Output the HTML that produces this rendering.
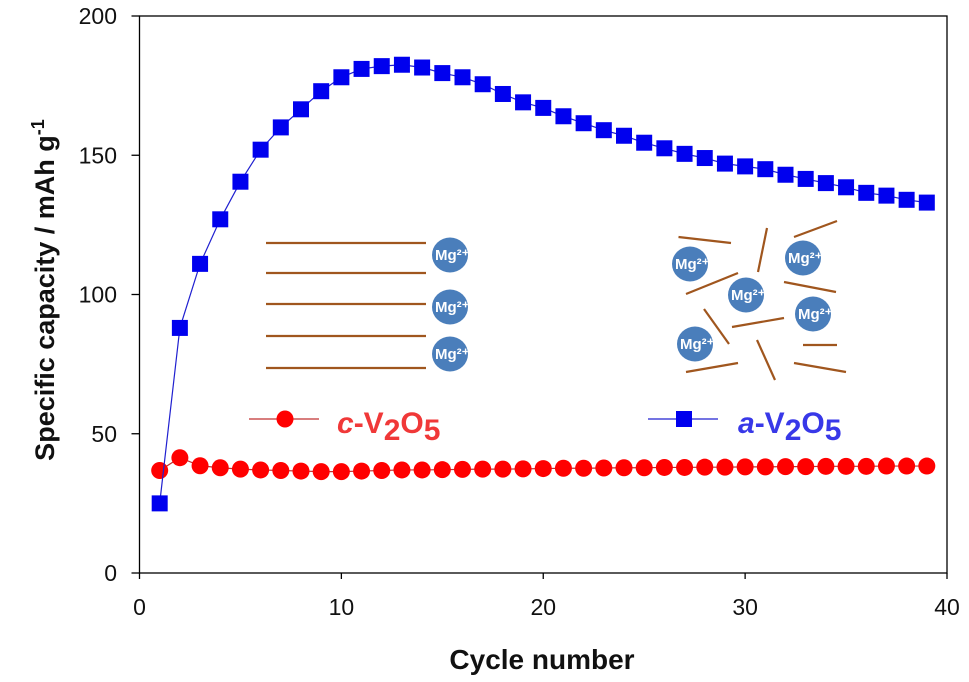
<!DOCTYPE html>
<html><head><meta charset="utf-8"><style>
html,body{margin:0;padding:0;background:#fff}
svg{display:block;font-family:"Liberation Sans",Arial,sans-serif}
</style></head><body>
<svg id="chart" width="969" height="682" viewBox="0 0 969 682" xmlns="http://www.w3.org/2000/svg">
<defs id="defs"></defs>
<g id="insets"></g>
<g id="axes"></g>
<g id="series"></g>
<g id="legend">
  <line x1="249" y1="419" x2="319" y2="419" stroke="#c03030" stroke-width="1.2"/>
  <circle cx="285" cy="419" r="8.5" fill="#ff0000"/>
  <text x="337" y="433" font-size="30" font-weight="bold" fill="#f03838"><tspan font-style="italic">c</tspan>-V<tspan dy="7">2</tspan><tspan dy="-7">O</tspan><tspan dy="7">5</tspan></text>
  <line x1="648" y1="419" x2="718" y2="419" stroke="#2020d0" stroke-width="1.2"/>
  <rect x="676" y="411" width="16" height="16" fill="#0000ee"/>
  <text x="738" y="433" font-size="30" font-weight="bold" fill="#3838e8"><tspan font-style="italic">a</tspan>-V<tspan dy="7">2</tspan><tspan dy="-7">O</tspan><tspan dy="7">5</tspan></text>
</g>
</svg>
<script>
const cycles = [1,2,3,4,5,6,7,8,9,10,11,12,13,14,15,16,17,18,19,20,21,22,23,24,25,26,27,28,29,30,31,32,33,34,35,36,37,38,39];
const aV2O5 = [25,88,111,127,140.5,152,160,166.5,173,178,181,182,182.5,181.5,179.5,178,175.5,172,169,167,164,161.5,159,157,154.5,152.5,150.5,149,147,146,145,143,141.5,140,138.5,136.5,135.5,134,133];
const cV2O5 = [36.8,41.4,38.5,37.8,37.3,37,36.8,36.6,36.4,36.4,36.6,36.8,37,37,37.1,37.2,37.3,37.3,37.4,37.5,37.6,37.6,37.7,37.8,37.8,37.9,37.9,38,38,38.1,38.1,38.2,38.2,38.3,38.3,38.3,38.4,38.4,38.4];
const xTicks = [0,10,20,30,40];
const yTicks = [0,50,100,150,200];

const NS = 'http://www.w3.org/2000/svg';
const X0=139.5, X1=947, Y0=573, Y1=16;
const xs = v => X0 + (v-0)/(40-0)*(X1-X0);
const ys = v => Y0 - (v-0)/(200-0)*(Y0-Y1);
function mk(tag, attrs, parent){const e=document.createElementNS(NS,tag);for(const k in attrs)e.setAttribute(k,attrs[k]);parent.appendChild(e);return e;}

// insets
const ins = document.getElementById('insets');
const defs = document.getElementById('defs');
const brown = '#a0561e';
[243,273,304,336,368].forEach(y=>{
  const l = mk('line',{x1:266,y1:y,x2:426,y2:y,stroke:brown,'stroke-width':2.2},ins);
  
  
});
const segs=[[678.5,237,731,243],[767,228,758,272],[794,237,837,221],[686,294,738,273],[784,282,836,292],[704,309,729,344],[732,327,784,318],[803,345,837,345],[757,340,775,380],[686,372,738,363],[794,363,846,372]];
segs.forEach(s=>{
  const l = mk('line',{x1:s[0],y1:s[1],x2:s[2],y2:s[3],stroke:brown,'stroke-width':2.2},ins);
  
  
});
const ions=[[450,255],[450,307],[450,354],[690,264],[746,295],[803,258],[813,314],[695,344]];
ions.forEach((c,i)=>{
  const cp = mk('clipPath',{id:'ion'+i},defs);
  mk('ellipse',{cx:c[0],cy:c[1],rx:18,ry:17.5},cp);
  const g = mk('g',{},ins);
  
  
  mk('ellipse',{cx:c[0],cy:c[1],rx:18,ry:17.5,fill:'#4a7ebb'},g);
  const t = mk('text',{x:c[0]-15,y:c[1]+5,'font-size':15,'font-weight':'bold',fill:'#fff','clip-path':'url(#ion'+i+')'},g);
  t.textContent='Mg²⁺';
});

// axes
const ax = document.getElementById('axes');
mk('rect',{x:X0,y:Y1,width:X1-X0,height:Y0-Y1,fill:'none',stroke:'#000','stroke-width':1.3},ax);
xTicks.forEach(v=>{
  mk('line',{x1:xs(v),y1:Y0,x2:xs(v),y2:Y0+6,stroke:'#000','stroke-width':1.3},ax);
  const t = mk('text',{x:xs(v),y:615,'font-size':23,'text-anchor':'middle',fill:'#111'},ax);
  
  
  t.textContent=v;
});
yTicks.forEach(v=>{
  mk('line',{x1:X0-8,y1:ys(v),x2:X0,y2:ys(v),stroke:'#000','stroke-width':1.3},ax);
  const t = mk('text',{x:117,y:ys(v)+8,'font-size':23,'text-anchor':'end',fill:'#111'},ax);
  
  
  t.textContent=v;
});
const xt = mk('text',{x:542,y:669,'font-size':28,'font-weight':'bold','text-anchor':'middle',fill:'#111'},ax);


xt.textContent='Cycle number';
const yt = mk('text',{x:0,y:0,'font-size':27,'font-weight':'bold','text-anchor':'middle',fill:'#111',transform:'translate(54,290) rotate(-90)'},ax);


yt.innerHTML='Specific capacity / mAh g<tspan dy="-10" font-size="18">-1</tspan>';

// series
const sr = document.getElementById('series');
const pc = mk('polyline',{points:cycles.map((c,i)=>xs(c)+','+ys(cV2O5[i])).join(' '),fill:'none',stroke:'#c03030','stroke-width':1.2},sr);


cycles.forEach((c,i)=>{
  const d = mk('circle',{cx:xs(c),cy:ys(cV2O5[i]),r:8.5,fill:'#ff0000'},sr);
  
  
});
const pa = mk('polyline',{points:cycles.map((c,i)=>xs(c)+','+ys(aV2O5[i])).join(' '),fill:'none',stroke:'#2020d0','stroke-width':1.2},sr);


cycles.forEach((c,i)=>{
  const r = mk('rect',{x:xs(c)-8,y:ys(aV2O5[i])-8,width:16,height:16,fill:'#0000ee'},sr);
  
  
});
</script>
</body></html>
